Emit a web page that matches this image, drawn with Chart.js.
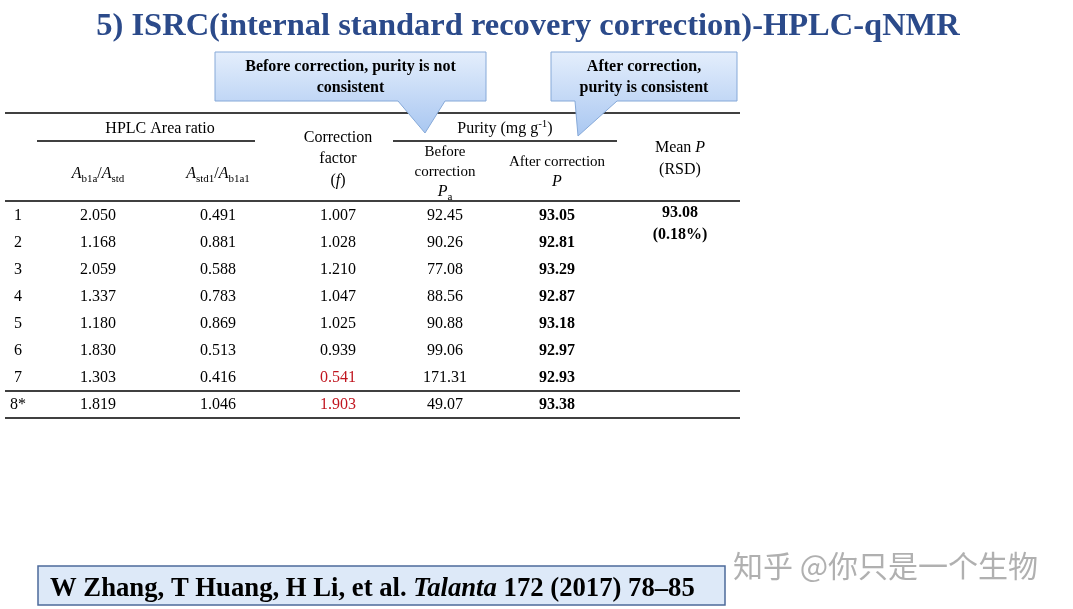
<!DOCTYPE html>
<html>
<head>
<meta charset="utf-8">
<script src="https://cdn.jsdelivr.net/npm/chart.js@4.4.0/dist/chart.umd.min.js"></script>
<style>
  html, body { margin: 0; padding: 0; background: #fff; }
  #wrap { width: 1073px; height: 609px; }
</style>
</head>
<body>
<div id="wrap"><canvas id="tbl"></canvas></div>
<script>
// table data
const rowLabels = ['1', '2', '3', '4', '5', '6', '7', '8*'];
const ratioA = ['2.050', '1.168', '2.059', '1.337', '1.180', '1.830', '1.303', '1.819'];
const ratioB = ['0.491', '0.881', '0.588', '0.783', '0.869', '0.513', '0.416', '1.046'];
const factorF = ['1.007', '1.028', '1.210', '1.047', '1.025', '0.939', '0.541', '1.903'];
const beforeP = ['92.45', '90.26', '77.08', '88.56', '90.88', '99.06', '171.31', '49.07'];
const afterP = ['93.05', '92.81', '93.29', '92.87', '93.18', '92.97', '92.93', '93.38'];
const redFactor = [false, false, false, false, false, false, true, true];
const meanP = '93.08';
const meanRSD = '(0.18%)';

const colX = [18, 98, 218, 338, 445, 557, 680];
const rowY0 = 216, rowStep = 27;
const serif = '"Liberation Serif", "DejaVu Serif", serif';

function callout(ctx, x0, y0, x1, y1, t0, t1, tip, lines) {
  const g = ctx.createLinearGradient(0, y0, 0, tip[1]);
  g.addColorStop(0, '#e4eefc');
  g.addColorStop(1, '#a9c7f1');
  ctx.beginPath();
  ctx.moveTo(x0, y0); ctx.lineTo(x1, y0); ctx.lineTo(x1, y1);
  ctx.lineTo(t1, y1); ctx.lineTo(tip[0], tip[1]); ctx.lineTo(t0, y1);
  ctx.lineTo(x0, y1); ctx.closePath();
  ctx.fillStyle = g; ctx.fill();
  ctx.strokeStyle = '#86a9d8'; ctx.lineWidth = 1; ctx.stroke();
  ctx.fillStyle = '#000';
  ctx.font = 'bold 16px ' + serif;
  ctx.textAlign = 'center';
  lines.forEach((l, i) => ctx.fillText(l, (x0 + x1) / 2, y0 + 19 + i * 21));
}

// parts: [text, kind (0 normal, 1 sub, 2 sup), italic]
function subText(ctx, parts, cx, cy, size) {
  size = size || 16;
  const f = p => (p[2] ? 'italic ' : '') + (p[1] ? Math.round(size * 0.68) : size) + 'px ' + serif;
  let w = 0;
  parts.forEach(p => { ctx.font = f(p); w += ctx.measureText(p[0]).width; });
  let x = cx - w / 2;
  ctx.textAlign = 'left';
  parts.forEach(p => {
    ctx.font = f(p);
    ctx.fillText(p[0], x, p[1] === 1 ? cy + 5 : p[1] === 2 ? cy - 5 : cy);
    x += ctx.measureText(p[0]).width;
  });
  ctx.textAlign = 'center';
}

const tablePlugin = {
  id: 'tablePlugin',
  afterDraw(chart) {
    const ctx = chart.ctx;
    const sx = chart.scales.x, sy = chart.scales.y;
    const X = v => sx.getPixelForValue(v);
    const Y = v => sy.getPixelForValue(v);
    ctx.save();
    ctx.textBaseline = 'middle';

    // title
    ctx.fillStyle = '#2b4a8a';
    ctx.font = 'bold 32.5px ' + serif;
    ctx.textAlign = 'center';
    ctx.fillText('5) ISRC(internal standard recovery correction)-HPLC-qNMR', X(528), Y(27));

    // rules
    ctx.strokeStyle = '#000';
    const hline = (a, b, y, w) => {
      ctx.lineWidth = w; ctx.beginPath();
      ctx.moveTo(X(a), Y(y)); ctx.lineTo(X(b), Y(y)); ctx.stroke();
    };
    hline(5, 740, 113, 1.5);
    hline(37, 255, 141, 1.5);
    hline(393, 617, 141, 1.5);
    hline(5, 740, 201, 1.5);
    hline(5, 740, 391, 1.5);
    hline(5, 740, 418, 1.5);

    // header
    ctx.fillStyle = '#000';
    ctx.font = '16px ' + serif;
    ctx.textAlign = 'center';
    ctx.fillText('HPLC Area ratio', X(160), Y(129));
    ctx.fillText('Correction', X(338), Y(138));
    ctx.fillText('factor', X(338), Y(159));
    subText(ctx, [['(', 0, 0], ['f', 0, 1], [')', 0, 0]], X(338), Y(181));
    subText(ctx, [['Purity (mg g', 0, 0], ['-1', 2, 0], [')', 0, 0]], X(505), Y(129));
    ctx.font = '15px ' + serif;
    ctx.fillText('Before', X(445), Y(152));
    ctx.fillText('correction', X(445), Y(172));
    subText(ctx, [['P', 0, 1], ['a', 1, 0]], X(445), Y(192));
    ctx.font = '15px ' + serif;
    ctx.fillText('After correction', X(557), Y(162));
    subText(ctx, [['P', 0, 1]], X(557), Y(182));
    subText(ctx, [['Mean ', 0, 0], ['P', 0, 1]], X(680), Y(148));
    ctx.font = '16px ' + serif;
    ctx.fillText('(RSD)', X(680), Y(170));
    subText(ctx, [['A', 0, 1], ['b1a', 1, 0], ['/', 0, 0], ['A', 0, 1], ['std', 1, 0]], X(98), Y(174));
    subText(ctx, [['A', 0, 1], ['std1', 1, 0], ['/', 0, 0], ['A', 0, 1], ['b1a1', 1, 0]], X(218), Y(174));

    // body
    rowLabels.forEach((r, i) => {
      const y = Y(rowY0 + i * rowStep);
      ctx.fillStyle = '#000';
      ctx.font = '16px ' + serif;
      ctx.fillText(r, X(colX[0]), y);
      ctx.fillText(ratioA[i], X(colX[1]), y);
      ctx.fillText(ratioB[i], X(colX[2]), y);
      ctx.fillStyle = redFactor[i] ? '#c0151f' : '#000';
      ctx.fillText(factorF[i], X(colX[3]), y);
      ctx.fillStyle = '#000';
      ctx.fillText(beforeP[i], X(colX[4]), y);
      ctx.font = 'bold 16px ' + serif;
      ctx.fillText(afterP[i], X(colX[5]), y);
    });
    ctx.font = 'bold 16px ' + serif;
    ctx.fillText(meanP, X(680), Y(213));
    ctx.fillText(meanRSD, X(680), Y(235));

    // callouts
    ctx.textBaseline = 'alphabetic';
    callout(ctx, X(215), Y(52), X(486), Y(101), X(398), X(445), [X(425), Y(133)],
      ['Before correction, purity is not', 'consistent']);
    callout(ctx, X(551), Y(52), X(737), Y(101), X(575), X(617), [X(578), Y(136)],
      ['After correction,', 'purity is consistent']);

    // citation box
    ctx.fillStyle = '#dde9f8';
    ctx.fillRect(X(38), Y(566), X(725) - X(38), Y(605) - Y(566));
    ctx.strokeStyle = '#4c6a9a';
    ctx.lineWidth = 1.5;
    ctx.strokeRect(X(38), Y(566), X(725) - X(38), Y(605) - Y(566));
    ctx.fillStyle = '#000';
    ctx.textAlign = 'left';
    let x = X(50);
    const by = Y(596);
    [['W Zhang, T Huang, H Li, et al. ', 'bold '], ['Talanta', 'bold italic '], [' 172 (2017) 78\u201385', 'bold ']]
      .forEach(p => {
        ctx.font = p[1] + '26.7px ' + serif;
        ctx.fillText(p[0], x, by);
        x += ctx.measureText(p[0]).width;
      });

    // watermark
    ctx.fillStyle = 'rgba(150,150,150,0.75)';
    ctx.font = '30px "Noto Sans CJK SC", sans-serif';
    ctx.fillText('知乎 @你只是一个生物', X(733), Y(577));
    ctx.restore();
  }
};

new Chart(document.getElementById('tbl'), {
  type: 'scatter',
  data: { datasets: [{ data: [], pointRadius: 0 }] },
  options: {
    responsive: true,
    maintainAspectRatio: false,
    animation: false,
    layout: { padding: 0 },
    plugins: { legend: { display: false }, tooltip: { enabled: false } },
    scales: {
      x: { type: 'linear', min: 0, max: 1073, display: false },
      y: { type: 'linear', min: 0, max: 609, reverse: true, display: false }
    }
  },
  plugins: [tablePlugin]
});
</script>
</body>
</html>
